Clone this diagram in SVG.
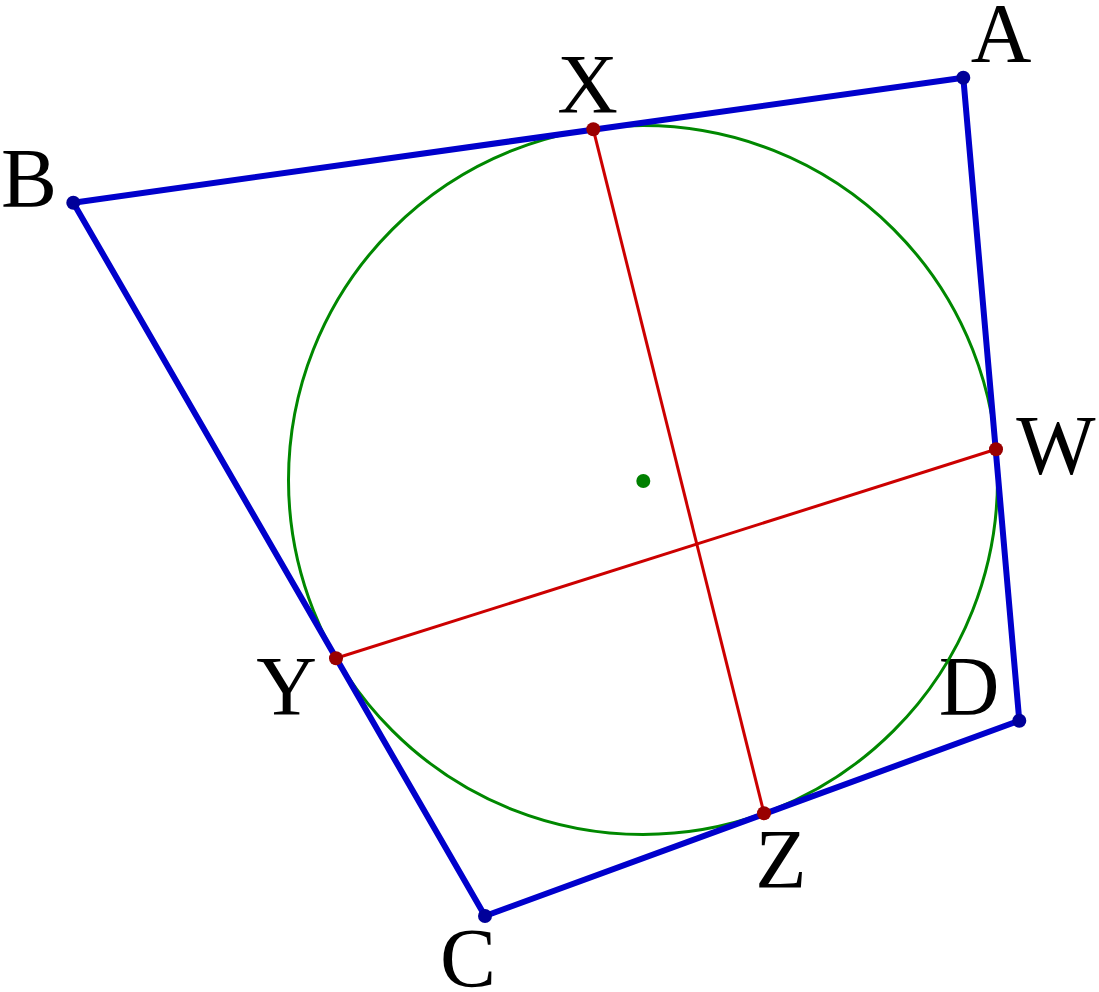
<svg xmlns="http://www.w3.org/2000/svg" width="1099" height="992" viewBox="0 0 1099 992">
<style>
.lbl{font-family:"Liberation Serif","DejaVu Serif",serif;font-size:84px;fill:#000;text-anchor:middle}
.side{stroke:#0000cc;stroke-width:6;fill:none;stroke-linejoin:round}
.chord{stroke:#cc0000;stroke-width:3;fill:none}
.circ{stroke:#008800;stroke-width:3;fill:none}
.vdot{fill:#000099}
.tdot{fill:#990000}
.cdot{fill:#008000}
</style>
<rect width="1099" height="992" fill="#fff"/>
<g id="labels">
<text class="lbl" x="1001" y="62">A</text>
<text class="lbl" x="29" y="206.7">B</text>
<text class="lbl" x="468" y="987">C</text>
<text class="lbl" x="969" y="715">D</text>
<text class="lbl" x="587.5" y="112.7">X</text>
<text class="lbl" x="1056" y="474">W</text>
<text class="lbl" x="286.7" y="715">Y</text>
<text class="lbl" x="781" y="888">Z</text>
</g>
<g id="circle">
<circle class="circ" cx="643" cy="480" r="354.5"/>
</g>
<g id="connectors">
<polygon class="side" points="963.3,77.7 73.3,202.7 485,916 1019.3,720.7"/>
<line class="chord" x1="593.3" y1="129.3" x2="764" y2="813.3"/>
<line class="chord" x1="336" y1="658.3" x2="996" y2="449.3"/>
</g>
<g id="A"><circle class="vdot" cx="963.3" cy="77.7" r="7"/></g>
<g id="B"><circle class="vdot" cx="73.3" cy="202.7" r="7"/></g>
<g id="C"><circle class="vdot" cx="485" cy="916" r="7"/></g>
<g id="D"><circle class="vdot" cx="1019.3" cy="720.7" r="7"/></g>
<g id="X"><circle class="tdot" cx="593.3" cy="129.3" r="7"/></g>
<g id="W"><circle class="tdot" cx="996" cy="449.3" r="7"/></g>
<g id="Y"><circle class="tdot" cx="336" cy="658.3" r="7"/></g>
<g id="Z"><circle class="tdot" cx="764" cy="813.3" r="7"/></g>
<g id="O"><circle class="cdot" cx="643.3" cy="481" r="7"/></g>
</svg>
